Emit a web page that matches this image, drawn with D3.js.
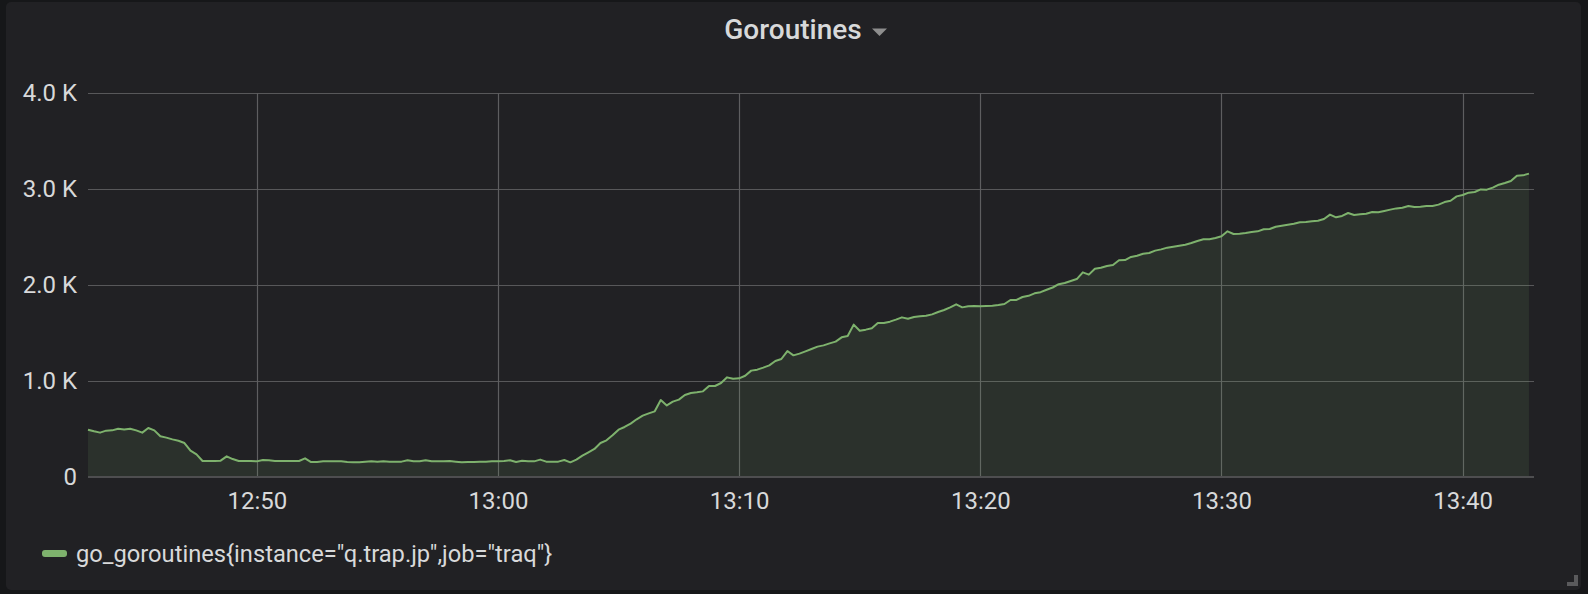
<!DOCTYPE html>
<html>
<head>
<meta charset="utf-8">
<script src="https://cdn.jsdelivr.net/npm/d3@7"></script>
<style>
  body { margin: 0; background: #161719; }
  svg { display: block; font-family: Roboto, "Helvetica Neue", Arial, sans-serif; }
</style>
</head>
<body>
<svg id="chart" width="1588" height="594"></svg>
<script>
const title = "Goroutines";
const seriesName = 'go_goroutines{instance="q.trap.jp",job="traq"}';
const rangeStart = "2019-01-01T12:43:00";
const rangeEnd = "2019-01-01T13:43:00";
const stepSeconds = 15;
const goroutines = [
  493, 476, 462, 483, 486, 503, 496, 503, 486, 462,
  510, 486, 424, 410, 392, 378, 354, 274, 236, 167,
  167, 167, 170, 215, 187, 167, 167, 167, 163, 177,
  174, 167, 167, 167, 167, 167, 194, 156, 156, 163,
  163, 163, 163, 156, 153, 153, 160, 163, 160, 163,
  160, 160, 160, 174, 163, 163, 174, 163, 163, 163,
  167, 160, 153, 156, 156, 160, 160, 163, 163, 167,
  174, 156, 170, 163, 163, 181, 160, 160, 160, 177,
  153, 181, 222, 257, 292, 354, 382, 434, 493, 521,
  556, 601, 639, 663, 684, 802, 746, 785, 806, 854,
  875, 882, 892, 948, 948, 979, 1038, 1024, 1028, 1055,
  1108, 1118, 1139, 1163, 1208, 1229, 1312, 1267, 1285, 1309,
  1333, 1358, 1371, 1392, 1410, 1455, 1469, 1587, 1524, 1535,
  1549, 1604, 1604, 1618, 1639, 1663, 1649, 1667, 1674, 1680,
  1694, 1719, 1740, 1767, 1799, 1767, 1778, 1781, 1778, 1781,
  1785, 1792, 1802, 1844, 1844, 1875, 1887, 1913, 1925, 1951,
  1974, 2008, 2021, 2042, 2062, 2132, 2108, 2170, 2180, 2198,
  2208, 2257, 2260, 2292, 2305, 2326, 2333, 2358, 2371, 2389,
  2399, 2410, 2420, 2437, 2458, 2476, 2476, 2489, 2507, 2559,
  2531, 2535, 2542, 2552, 2559, 2580, 2583, 2607, 2618, 2628,
  2639, 2653, 2656, 2663, 2670, 2687, 2733, 2705, 2719, 2750,
  2729, 2736, 2743, 2760, 2757, 2771, 2785, 2798, 2805, 2823,
  2812, 2816, 2823, 2823, 2837, 2864, 2878, 2923, 2937, 2962,
  2969, 2996, 2993, 3014, 3045, 3062, 3083, 3139, 3142, 3160
];
const yTicks = [0, 1000, 2000, 3000, 4000];
const xTickLabels = ["12:50", "13:00", "13:10", "13:20", "13:30", "13:40"];

const svg = d3.select("#chart");
const plotLeft = 88, plotRight = 1535, plotTop = 93, plotBottom = 477;

// panel
svg.append("rect")
  .attr("x", 6).attr("y", 2)
  .attr("width", 1575).attr("height", 588)
  .attr("rx", 5)
  .attr("fill", "#212124");

// title + dropdown caret
svg.append("text")
  .attr("x", 793).attr("y", 39)
  .attr("text-anchor", "middle")
  .attr("font-size", 28).attr("font-weight", 500)
  .attr("fill", "#d8d9da")
  .text(title);
svg.append("path")
  .attr("d", "M872,28.5 L887,28.5 L879.5,36 Z")
  .attr("fill", "#8e8e8e");

const t0 = new Date(rangeStart);
const data = goroutines.map((v, i) => ({ t: new Date(t0.getTime() + i * stepSeconds * 1000), v }));

const x = d3.scaleTime()
  .domain([new Date(rangeStart), new Date(rangeEnd)])
  .range([plotLeft, plotRight]);
const y = d3.scaleLinear().domain([0, 4000]).range([plotBottom, plotTop]);

const xTicks = xTickLabels.map(s => d3.timeParse("%Y-%m-%dT%H:%M")("2019-01-01T" + s));

// grid
const grid = svg.append("g");
grid.selectAll("line.h").data(yTicks.filter(d => d > 0)).join("line")
  .attr("x1", plotLeft).attr("x2", 1534)
  .attr("y1", d => Math.round(y(d)) + 0.5).attr("y2", d => Math.round(y(d)) + 0.5)
  .attr("stroke", "#58585a").attr("stroke-width", 1.2);
grid.selectAll("line.v").data(xTicks).join("line")
  .attr("x1", d => Math.round(x(d)) + 0.5).attr("x2", d => Math.round(x(d)) + 0.5)
  .attr("y1", plotTop).attr("y2", plotBottom)
  .attr("stroke", "#5e5e60").attr("stroke-width", 1.2);

// area + line
svg.append("path")
  .datum(data)
  .attr("d", d3.area().x(d => x(d.t)).y0(y(0)).y1(d => y(d.v)))
  .attr("fill", "#7eb26d").attr("fill-opacity", 0.11);
svg.append("path")
  .datum(data)
  .attr("d", d3.line().x(d => x(d.t)).y(d => y(d.v)))
  .attr("fill", "none")
  .attr("stroke", "#7eb26d").attr("stroke-width", 2)
  .attr("stroke-linejoin", "round");

// bottom axis line
svg.append("line")
  .attr("x1", plotLeft).attr("x2", 1534)
  .attr("y1", plotBottom).attr("y2", plotBottom)
  .attr("stroke", "#4e4e50").attr("stroke-width", 2);

// y axis labels
const yAxis = d3.axisLeft(y).tickValues(yTicks).tickSize(0).tickPadding(0)
  .tickFormat(d => d === 0 ? "0" : (d / 1000).toFixed(1) + " K");
const ya = svg.append("g").attr("transform", "translate(77,0)").call(yAxis);
ya.select(".domain").remove();
ya.selectAll("text")
  .attr("font-size", 24).attr("fill", "#d8d9da")
  .attr("font-family", "Roboto, sans-serif");

// x axis labels
const xAxis = d3.axisBottom(x).tickValues(xTicks).tickSize(0).tickPadding(0)
  .tickFormat((d, i) => xTickLabels[i]);
const xa = svg.append("g").attr("transform", "translate(0,492)").call(xAxis);
xa.select(".domain").remove();
xa.selectAll("text")
  .attr("font-size", 24).attr("fill", "#d8d9da")
  .attr("font-family", "Roboto, sans-serif");

// legend
svg.append("rect")
  .attr("x", 42).attr("y", 550).attr("width", 25).attr("height", 7)
  .attr("rx", 3).attr("fill", "#7eb26d");
svg.append("text")
  .attr("x", 76).attr("y", 562)
  .attr("font-size", 23.7).attr("fill", "#d8d9da")
  .text(seriesName);

// resize handle
svg.append("path")
  .attr("d", "M1574,575 L1578,575 L1578,586 L1567,586 L1567,582 L1574,582 Z")
  .attr("fill", "#5a5a5c");
</script>
</body>
</html>
